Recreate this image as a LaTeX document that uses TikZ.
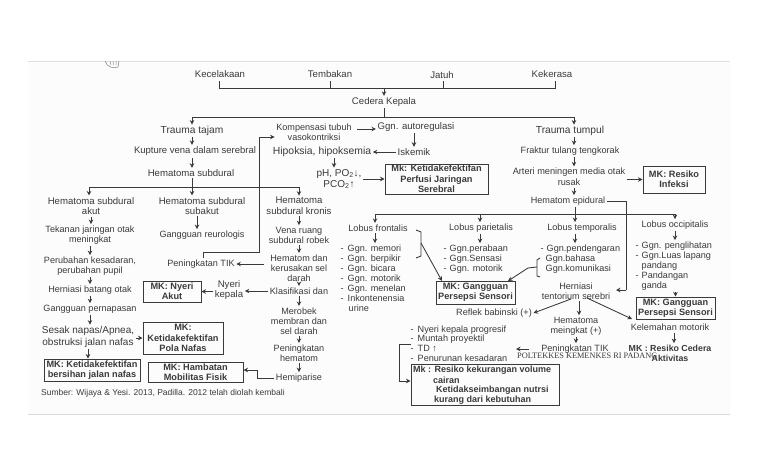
\documentclass[tikz,border=0pt]{standalone}
\usepackage{fontspec}
\setmainfont{Liberation Sans}
\newfontfamily\wmfont{Liberation Serif}
\usetikzlibrary{arrows.meta}
\definecolor{ink}{HTML}{3A3A3A}
\tikzset{
  txt/.style={text=ink,align=center,inner sep=1.5pt,font=\fontsize{9.6}{10.6}\selectfont},
  ltxt/.style={txt,anchor=west,align=left},
  sm/.style={font=\fontsize{9.1}{10}\selectfont},
  bx/.style={draw=ink,line width=1pt,text=ink,align=center,inner sep=0pt,font=\bfseries\fontsize{9.2}{10.4}\selectfont,execute at begin node={\rule{0pt}{8.6pt}}},
  ln/.style={draw=ink,line width=0.85pt},
  arr/.style={ln,-{Stealth[length=4.5pt,width=4.5pt]}},
}
\newcommand{\varr}[2]{\draw[arr] (#1.south) -- (#1.south |- #2.north);}
\begin{document}
\begin{tikzpicture}[x=1pt,y=-1pt]
\useasboundingbox (0,0) rectangle (768,466);
\fill[white] (0,0) rectangle (768,466);
\fill[black!1] (28,61) rectangle (730,414);
\draw[black!12,line width=0.8pt] (28,61) -- (730,61);
\draw[black!15,line width=0.8pt] (28,414) -- (730,414);
\draw[black!45,line width=0.6pt] (105,61) .. controls (107,67) and (113,69) .. (118,67) -- (119,61);
\draw[black!45,line width=0.5pt] (110,61) -- (111,65) (113,61) -- (113.5,65) (116,61) -- (116,65);
% causes
\node[txt] (kec) at (220,74) {Kecelakaan};
\node[txt] (tem) at (330,74) {Tembakan};
\node[txt] (jat) at (442,75) {Jatuh};
\node[txt] (kek) at (552,74) {Kekerasa};
\node[txt] (ced) at (384,102) {Cedera Kepala};
\coordinate (topL) at (219,88);
\coordinate (topR) at (555,88);
\coordinate (topM) at (384,88);
\draw[ln] (219,81) -- (topL) -- (topR) -- (555,81);
\draw[ln] (330,81) -- (330,88);
\draw[ln] (443,81) -- (443,88);
\draw[arr] (topM) -- (ced.north);
% left trunk
\node[txt,font=\fontsize{10.2}{11}\selectfont] (ttajam) at (192,131) {Trauma tajam};
\node[txt,font=\fontsize{9.5}{10}\selectfont] (kup) at (195,151) {Kupture vena dalam serebral};
\node[txt] (hsub) at (191,173) {Hematoma subdural};
\node[txt,font=\fontsize{10.2}{11}\selectfont] (ttumpul) at (570,131) {Trauma tumpul};
\coordinate (j1) at (384,117);
\coordinate (j1L) at (192,117);
\coordinate (j1R) at (574,117);
\draw[ln] (ced.south) -- (j1);
\draw[arr] (j1) -- (j1L) -- (ttajam.north -| j1L);
\draw[arr] (j1) -- (j1R) -- (ttumpul.north -| j1R);
\varr{ttajam}{kup}
\coordinate (k1) at (192,158);
\draw[arr] (k1) -- (k1 |- hsub.north);
% subdural branches
\node[txt] (hak) at (91,206) {Hematoma subdural\\akut};
\node[txt] (hsa) at (202,206) {Hematoma subdural\\subakut};
\node[txt] (hkr) at (299,206) {Hematoma\\subdural kronis};
\coordinate (j2) at (192,187);
\coordinate (j2L) at (89,187);
\coordinate (j2R) at (299,187);
\draw[ln] (hsub.south -| j2) -- (j2);
\draw[ln] (j2L) -- (j2R);
\draw[arr] (j2L) -- (hak.north -| j2L);
\draw[arr] (j2) -- (j2 |- hsa.north);
\draw[arr] (j2R) -- (hkr.north -| j2R);
% akut column
\node[txt,sm] (tek) at (90,235) {Tekanan jaringan otak\\meningkat};
\node[txt,sm] (per) at (90,266) {Perubahan kesadaran,\\perubahan pupil};
\node[txt,sm] (her) at (90,290) {Herniasi batang otak};
\node[txt,sm] (gan) at (90,309) {Gangguan pernapasan};
\node[txt,font=\fontsize{10}{12}\selectfont] (ses) at (88,337) {Sesak napas/Apnea,\\obstruksi jalan nafas};
\node[bx,minimum width=96pt,minimum height=22pt] (mkb) at (92,370) {MK: Ketidakefektifan\\bersihan jalan nafas};
\node[bx,minimum width=80pt,minimum height=32pt] (mkp) at (183,338) {MK:\\Ketidakefektifan\\Pola Nafas};
\varr{hak}{tek}
\varr{tek}{per}
\varr{per}{her}
\varr{her}{gan}
\varr{gan}{ses}
\varr{ses}{mkb}
\draw[arr] (ses.east |- mkp.west) -- (mkp.west);
% subakut
\node[txt,sm] (rsi) at (202,235) {Gangguan reurologis};
\coordinate (s1) at (197,216);
\draw[arr] (s1) -- (s1 |- rsi.north);
% kronis column
\node[txt,sm] (ven) at (299,235) {Vena ruang\\subdural robek};
\node[txt,sm] (hem) at (299,268) {Hematom dan\\kerusakan sel\\darah};
\node[txt,sm] (kla) at (299,291) {Klasifikasi dan};
\node[txt,sm] (mer) at (299,321) {Merobek\\membran dan\\sel darah};
\node[txt,sm] (pen) at (299,353) {Peningkatan\\hematom};
\node[txt,sm] (hmp) at (299,378) {Hemiparise};
\node[txt,sm] (tik) at (201,264) {Peningkatan TIK};
\node[txt] (nye) at (229,290) {Nyeri\\kepala};
\node[bx,minimum width=58pt,minimum height=21pt] (mkn) at (172,291.5) {MK: Nyeri\\Akut};
\node[bx,minimum width=95pt,minimum height=20pt] (mkh) at (195.5,372) {MK: Hambatan\\Mobilitas Fisik};
\varr{hkr}{ven}
\varr{ven}{hem}
\varr{hem}{kla}
\varr{kla}{mer}
\varr{mer}{pen}
\varr{pen}{hmp}
\coordinate (t1) at (264,264);
\draw[arr] (t1) -- (tik.east);
\draw[arr] (kla.west) -- (nye.east |- kla.west);
\draw[arr] (nye.west |- mkn.east) -- (mkn.east);
\coordinate (e1) at (257,378);
\coordinate (e2) at (257,370);
\draw[arr] (hmp.west) -- (e1) -- (e2) -- (mkh.east |- e2);
% feedback line
\node[txt,sm] (kom) at (314,132) {Kompensasi tubuh\\vasokontriksi};
\coordinate (f1) at (203,252);
\coordinate (f2) at (259,252);
\coordinate (f3) at (259,137);
\draw[arr] (tik.north -| f1) -- (f1) -- (f2) -- (f3) -- (kom.west |- f3);
% centre
\node[txt] (aut) at (416,127) {Ggn. autoregulasi};
\node[txt] (isk) at (414,152) {Iskemik};
\node[txt,font=\fontsize{10.4}{12}\selectfont] (hip) at (322,152) {Hipoksia, hipoksemia};
\node[txt,font=\fontsize{10}{11}\selectfont] (ph) at (339,179) {pH, PO\textsubscript{2}↓,\\PCO\textsubscript{2}↑};
\node[bx,minimum width=103pt,minimum height=30pt] (mks) at (436.5,179) {Mk: Ketidakefektifan\\Perfusi Jaringan\\Serebral};
\coordinate (a0) at (357,129);
\draw[arr] (a0) -- (aut.west |- a0);
\draw[arr] (aut.south -| isk) -- (isk.north);
\draw[arr] (isk.west) -- (hip.east);
\coordinate (h1) at (334,158);
\draw[arr] (h1) -- (h1 |- ph.north);
\draw[arr] (ph.east |- mks.west) -- (mks.west);
% right trunk
\node[txt,sm] (fra) at (570,151) {Fraktur tulang tengkorak};
\node[txt,font=\fontsize{9.2}{11}\selectfont] (art) at (569,177) {Arteri meningen media otak\\rusak};
\node[txt,sm] (epi) at (568,201) {Hematom epidural};
\node[bx,minimum width=62pt,minimum height=27pt] (mki) at (674,179.5) {MK: Resiko\\Infeksi};
\draw[arr] (j1R |- ttumpul.south) -- (j1R |- fra.north);
\draw[arr] (j1R |- fra.south) -- (j1R |- art.north);
\draw[arr] (j1R |- art.south) -- (j1R |- epi.north);
\draw[arr] (art.east |- mki.west) -- (mki.west);
% lobes
\node[txt,sm] (lfr) at (378,228) {Lobus frontalis};
\node[txt,sm] (lpa) at (481,228) {Lobus parietalis};
\node[txt,sm] (lte) at (582,228) {Lobus temporalis};
\node[txt,sm] (loc) at (675,225) {Lobus occipitalis};
\coordinate (j3) at (575,214);
\coordinate (j3L) at (375,214);
\coordinate (j3P) at (480,214);
\coordinate (j3R) at (675,214);
\draw[ln] (epi.south -| j3) -- (j3);
\draw[ln] (j3L) -- (j3R);
\draw[arr] (j3L) -- (lfr.north -| j3L);
\draw[arr] (j3P) -- (lpa.north -| j3P);
\draw[arr] (j3) -- (lte.north -| j3);
\draw[arr] (j3R) -- (loc.north -| j3R);
% frontal list
\node[ltxt,sm] (fl1) at (339,249) {-\hspace{4pt}Ggn. memori};
\node[ltxt,sm] (fl2) at (339,259) {-\hspace{4pt}Ggn. berpikir};
\node[ltxt,sm] (fl3) at (339,269) {-\hspace{4pt}Ggn. bicara};
\node[ltxt,sm] (fl4) at (339,279) {-\hspace{4pt}Ggn. motorik};
\node[ltxt,sm] (fl5) at (339,289) {-\hspace{4pt}Ggn. menelan};
\node[ltxt,sm] (fl6) at (339,303) {-\hspace{4pt}Inkontenensia\\\hspace{8pt}urine};
\draw[arr] (j3L |- lfr.south) -- (j3L |- fl1.north);
% parietal list
\node[ltxt,sm] (pl1) at (442,249) {-\hspace{3pt}Ggn.perabaan};
\node[ltxt,sm] (pl2) at (442,259) {-\hspace{3pt}Ggn.Sensasi};
\node[ltxt,sm] (pl3) at (442,269) {-\hspace{3pt}Ggn. motorik};
\draw[arr] (j3P |- lpa.south) -- (j3P |- pl1.north);
% temporal list
\node[ltxt,sm] (tl1) at (539,249) {-\hspace{3pt}Ggn.pendengaran};
\node[ltxt,sm] (tl2) at (544,259) {Ggn.bahasa};
\node[ltxt,sm] (tl3) at (544,269) {Ggn.komunikasi};
\draw[arr] (j3 |- lte.south) -- (j3 |- tl1.north);
% occipital list
\node[ltxt,sm] (ol1) at (634,246) {-\hspace{3pt}Ggn. penglihatan};
\node[ltxt,sm] (ol2) at (634,261) {-\hspace{3pt}Ggn.Luas lapang\\\hspace{6pt}pandang};
\node[ltxt,sm] (ol3) at (634,281) {-\hspace{3pt}Pandangan\\\hspace{6pt}ganda};
\draw[arr] (j3R |- loc.south) -- (j3R |- ol1.north);
% sensory boxes
\node[bx,minimum width=79pt,minimum height=23pt] (mkg) at (475.5,292.5) {MK: Gangguan\\Persepsi Sensori};
\node[bx,minimum width=79pt,minimum height=22pt] (mkg2) at (675.5,308) {MK: Gangguan\\Persepsi Sensori};
\draw[arr] (ol3.south -| mkg2) -- (mkg2.north);
\coordinate (br1) at (421,243);
\coordinate (g1) at (442,281);
\coordinate (g2) at (508,281);
\draw[ln] (416,230) -- (421,232) -- (421,256) -- (416,258);
\draw[arr] (br1) -- (g1);
\coordinate (br2) at (537,267);
\coordinate (br3) at (528,268);
\draw[ln] (540,258) -- (537,260) -- (537,276) -- (540,277);
\draw[arr] (br2) -- (br3) -- (g2);
% herniasi
\node[txt,sm] (hrn) at (576,291) {Herniasi\\tentorium serebri};
\node[txt,sm] (ref) at (494,313) {Reflek babinski (+)};
\node[txt,sm] (hmi) at (576,326) {Hematoma\\meingkat (+)};
\node[txt,sm] (kel) at (670,327) {Kelemahan motorik};
\node[txt,sm] (ptk) at (575,349) {Peningkatan TIK};
\node[txt,font=\bfseries\fontsize{8.8}{10}\selectfont] (res) at (670,353) {MK : Resiko Cedera\\Aktivitas};
\coordinate (ep1) at (626,201);
\coordinate (ep2) at (626,290);
\coordinate (ep3) at (616,290);
\draw[ln] (epi.east) -- (ep1);
\draw[draw=ink,line width=0.5pt] (ep1) -- (ep2);
\draw[arr] (ep2) -- (ep3);
\coordinate (n1) at (571,299);
\coordinate (n2) at (579,301);
\coordinate (n3) at (587,298);
\coordinate (n4) at (632,319);
\draw[arr] (n1) -- (ref.east);
\draw[arr] (n2) -- (n2 |- hmi.north);
\draw[arr] (n3) -- (n4);
\varr{hmi}{ptk}
\coordinate (m1) at (674,333);
\draw[arr] (m1) -- (m1 |- res.north);
\coordinate (p1) at (516,349);
\coordinate (p0) at (529,349);
\draw[arr] (p0) -- (p1);
% symptoms
\node[ltxt,sm] (sy1) at (409,330) {-\hspace{4pt}Nyeri kepala progresif};
\node[ltxt,sm] (sy2) at (409,339.5) {-\hspace{4pt}Muntah proyektil};
\node[ltxt,sm] (sy3) at (409,348.5) {-\hspace{4pt}TD ↑};
\node[ltxt,sm] (sy4) at (409,358) {-\hspace{4pt}Penurunan kesadaran};
\node[draw=ink,line width=1pt,minimum width=148pt,minimum height=41pt,inner sep=0pt] (mkv) at (485,384.5) {};
\node[anchor=west,text=ink,inner sep=0pt,font=\bfseries\fontsize{9}{10}\selectfont] (mv1) at (413,370) {Mk : Resiko kekurangan volume};
\node[anchor=west,text=ink,inner sep=0pt,font=\bfseries\fontsize{9}{10}\selectfont] (mv2) at (433,380) {cairan};
\node[anchor=west,text=ink,inner sep=0pt,font=\bfseries\fontsize{9}{10}\selectfont] (mv3) at (436,390) {Ketidakseimbangan nutrsi};
\node[anchor=west,text=ink,inner sep=0pt,font=\bfseries\fontsize{9}{10}\selectfont] (mv4) at (434,400) {kurang dari kebutuhan};
\coordinate (sb0) at (411,344);
\coordinate (sb1) at (399,344);
\coordinate (sb2) at (399,381);
\draw[arr] (sb0) -- (sb1) -- (sb2) -- (mkv.west |- sb2);
% watermark and source
\node[anchor=west,inner sep=0pt,text=ink,font=\wmfont\fontsize{8.3}{10}\selectfont] (wm) at (517,356) {POLTEKKES KEMENKES RI PADANG};
\node[anchor=west,inner sep=0pt,text=ink,font=\fontsize{8.5}{10}\selectfont] (src) at (41,393) {Sumber: Wijaya \& Yesi. 2013, Padilla. 2012 telah diolah kembali};
\end{tikzpicture}
\end{document}
